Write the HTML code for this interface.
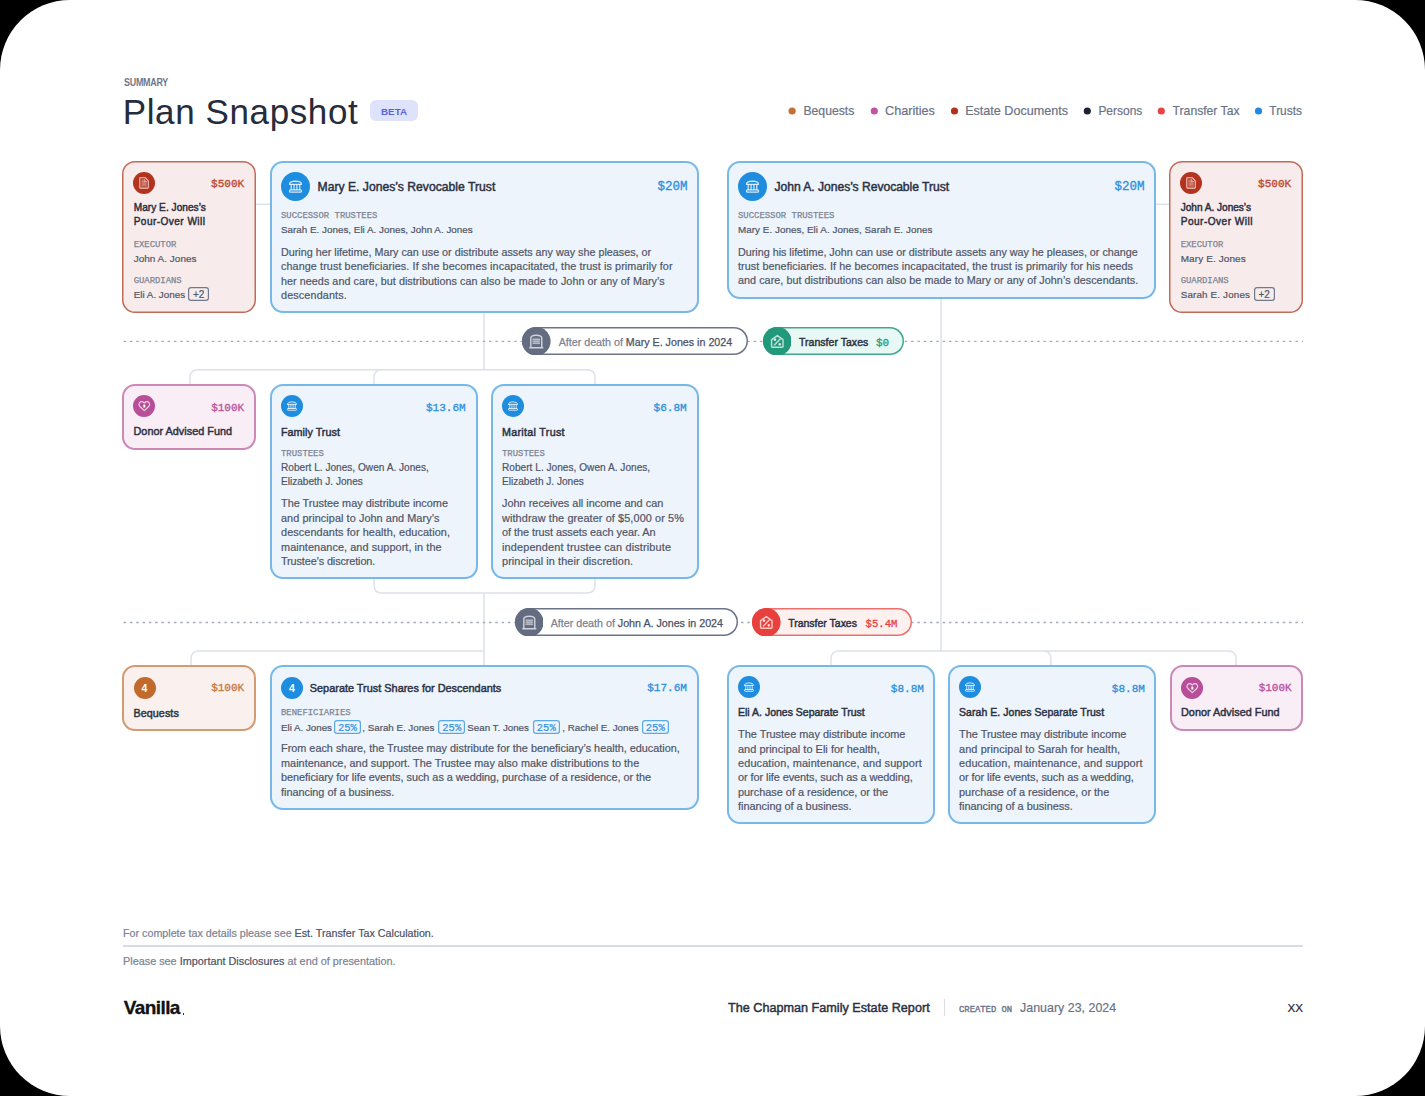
<!DOCTYPE html><html><head><meta charset="utf-8"><style>
html,body{margin:0;padding:0;background:#000;width:1425px;height:1096px;overflow:hidden}
.page{position:absolute;left:0;top:0;width:1425px;height:1096px;background:#fff;border-radius:70px;overflow:hidden}
.t{position:absolute;white-space:pre}
.b{position:absolute;box-sizing:border-box}
.i{position:absolute}
</style></head><body><div class="page">

<div class="t" style="left:123.50px;top:72.31px;font:700 10.5px/20px 'Liberation Sans', sans-serif;color:#6f778a;letter-spacing:-0.3px;-webkit-text-stroke-width:0px;transform:scaleX(0.85);transform-origin:0 0">SUMMARY</div>
<div class="t" style="left:122.80px;top:101.82px;font:400 35px/20px 'Liberation Sans', sans-serif;color:#252c3c;letter-spacing:0.6px;-webkit-text-stroke-width:0px;">Plan Snapshot</div>
<div class="b" style="left:370px;top:100px;width:48px;height:21px;background:#dfe2fb;border-radius:6px"></div>
<div class="t" style="left:394.00px;top:101.85px;font:700 9.8px/20px 'Liberation Sans', sans-serif;color:#5664df;letter-spacing:0px;-webkit-text-stroke-width:0px;transform:translateX(-50%)">BETA</div>
<svg class="i" style="left:0;top:0" width="1425" height="200"><circle cx="792.1" cy="111" r="3.6" fill="#c46f33"/><circle cx="874.3" cy="111" r="3.6" fill="#c2559f"/><circle cx="954.5" cy="111" r="3.6" fill="#b2321f"/><circle cx="1087.3" cy="111" r="3.6" fill="#1c2333"/><circle cx="1161.3" cy="111" r="3.6" fill="#e94343"/><circle cx="1258.5" cy="111" r="3.6" fill="#2089e0"/></svg>
<div class="t" style="left:803.40px;top:101.21px;font:400 12.23px/20px 'Liberation Sans', sans-serif;color:#6b7386;letter-spacing:0px;-webkit-text-stroke-width:0.2px;">Bequests</div>
<div class="t" style="left:885.00px;top:101.06px;font:400 12.67px/20px 'Liberation Sans', sans-serif;color:#6b7386;letter-spacing:0px;-webkit-text-stroke-width:0.2px;">Charities</div>
<div class="t" style="left:965.20px;top:101.09px;font:400 12.58px/20px 'Liberation Sans', sans-serif;color:#6b7386;letter-spacing:0px;-webkit-text-stroke-width:0.2px;">Estate Documents</div>
<div class="t" style="left:1098.40px;top:101.30px;font:400 11.97px/20px 'Liberation Sans', sans-serif;color:#6b7386;letter-spacing:0px;-webkit-text-stroke-width:0.2px;">Persons</div>
<div class="t" style="left:1172.60px;top:101.24px;font:400 12.16px/20px 'Liberation Sans', sans-serif;color:#6b7386;letter-spacing:0px;-webkit-text-stroke-width:0.2px;">Transfer Tax</div>
<div class="t" style="left:1269.30px;top:101.32px;font:400 11.93px/20px 'Liberation Sans', sans-serif;color:#6b7386;letter-spacing:0px;-webkit-text-stroke-width:0.2px;">Trusts</div>
<svg class="i" style="left:0;top:0" width="1425" height="1096"><g fill="none" stroke="#dde2ea" stroke-width="1.5"><path d="M256,204.3 H270"/><path d="M1155,204.3 H1170"/><path d="M484,312 V369.8"/><path d="M190,385 V377.8 Q190,369.8 198,369.8 H587 Q595,369.8 595,377.8 V385"/><path d="M374,385 V377.8 Q374,369.8 382,369.8"/><path d="M374,579 V585 Q374,593 382,593 H587 Q595,593 595,585 V579"/><path d="M484,593 V665"/><path d="M191,665 V659 Q191,651 199,651 H484"/><path d="M941,298 V651"/><path d="M831,665 V659 Q831,651 839,651 H1228 Q1236,651 1236,659 V665"/><path d="M1051,665 V659 Q1051,651 1043,651"/></g>
<line x1="123.6" y1="341.4" x2="1303" y2="341.4" stroke="#a3abbb" stroke-width="1.3" stroke-dasharray="2.5 3.8"/>
<line x1="123.6" y1="622.5" x2="1303" y2="622.5" stroke="#a3abbb" stroke-width="1.3" stroke-dasharray="2.5 3.8"/>
</svg>
<div class="b" style="left:522.4px;top:326.8px;width:225.20000000000005px;height:28.6px;background:#fff;box-shadow:inset 0 0 0 1.5px #6b7488;border-radius:14.3px"></div>
<svg class="i" style="left:522.4px;top:326.8px" width="28.6" height="28.6" viewBox="0 0 28.6 28.6"><circle cx="14.3" cy="14.3" r="14.3" fill="#636c80"/><g transform="translate(14.3,14.3) scale(1.3)" fill="none" stroke="#fff" stroke-width="1.1" stroke-linecap="round" stroke-linejoin="round"><path d="M-4.2,4.6 V-2.4 Q-4.2,-4.7 0,-4.7 Q4.2,-4.7 4.2,-2.4 V4.6 M-5,4.9 H5" stroke-opacity="0.7"/><rect x="-2.8" y="-2.3" width="5.6" height="4.5" fill="#fff" fill-opacity="0.3" stroke="none"/><path d="M-2.6,-1.5 H2.6 M-2.6,0 H2.6 M-2.6,1.5 H2.6" stroke-opacity="0.45" stroke-width="0.8"/></g></svg>
<div class="t" style="left:558.70px;top:331.74px;font:400 10.7px/20px 'Liberation Sans', sans-serif;color:#4b5264;letter-spacing:0px;-webkit-text-stroke-width:0.25px;"><span style="color:#7b8294">After death of </span>Mary E. Jones in 2024</div>
<div class="b" style="left:762.7px;top:326.8px;width:140.89999999999998px;height:28.6px;background:#e8f8f5;box-shadow:inset 0 0 0 1.5px #40a68d;border-radius:14.3px"></div>
<svg class="i" style="left:762.7px;top:326.8px" width="28.6" height="28.6" viewBox="0 0 28.6 28.6"><circle cx="14.3" cy="14.3" r="14.3" fill="#23997c"/><g transform="translate(14.3,14.3) scale(1.3)" fill="none" stroke="#fff" stroke-width="1.1" stroke-linecap="round" stroke-linejoin="round"><path d="M-4.4,-1.3 L0,-4.4 L4.4,-1.3 V4 Q4.4,4.6 3.8,4.6 H-3.8 Q-4.4,4.6 -4.4,4 Z" stroke-opacity="0.7"/><path d="M2.2,-1.8 L-2.2,2.8" stroke-opacity="0.7"/><circle cx="-1.8" cy="-1.2" r="0.5" fill="#fff" stroke-opacity="0.7"/><circle cx="1.9" cy="2.3" r="0.5" fill="#fff" stroke-opacity="0.7"/></g></svg>
<div class="t" style="left:799.00px;top:332.82px;font:400 10.49px/20px 'Liberation Sans', sans-serif;color:#2b3142;letter-spacing:0.039px;-webkit-text-stroke-width:0.45px;">Transfer Taxes</div>
<div class="t" style="left:875.90px;top:332.52px;font:400 11px/20px 'Liberation Mono', monospace;color:#2a9d80;letter-spacing:0px;-webkit-text-stroke-width:0.3px;">$0</div>
<div class="b" style="left:514.7px;top:607.9px;width:223.0px;height:28.6px;background:#fff;box-shadow:inset 0 0 0 1.5px #6b7488;border-radius:14.3px"></div>
<svg class="i" style="left:514.7px;top:607.9px" width="28.6" height="28.6" viewBox="0 0 28.6 28.6"><circle cx="14.3" cy="14.3" r="14.3" fill="#636c80"/><g transform="translate(14.3,14.3) scale(1.3)" fill="none" stroke="#fff" stroke-width="1.1" stroke-linecap="round" stroke-linejoin="round"><path d="M-4.2,4.6 V-2.4 Q-4.2,-4.7 0,-4.7 Q4.2,-4.7 4.2,-2.4 V4.6 M-5,4.9 H5" stroke-opacity="0.7"/><rect x="-2.8" y="-2.3" width="5.6" height="4.5" fill="#fff" fill-opacity="0.3" stroke="none"/><path d="M-2.6,-1.5 H2.6 M-2.6,0 H2.6 M-2.6,1.5 H2.6" stroke-opacity="0.45" stroke-width="0.8"/></g></svg>
<div class="t" style="left:550.70px;top:612.84px;font:400 10.7px/20px 'Liberation Sans', sans-serif;color:#4b5264;letter-spacing:0px;-webkit-text-stroke-width:0.25px;"><span style="color:#7b8294">After death of </span>John A. Jones in 2024</div>
<div class="b" style="left:752.1px;top:607.9px;width:159.69999999999993px;height:28.6px;background:#fdf1f0;box-shadow:inset 0 0 0 1.5px #ec706c;border-radius:14.3px"></div>
<svg class="i" style="left:752.1px;top:607.9px" width="28.6" height="28.6" viewBox="0 0 28.6 28.6"><circle cx="14.3" cy="14.3" r="14.3" fill="#e8403d"/><g transform="translate(14.3,14.3) scale(1.3)" fill="none" stroke="#fff" stroke-width="1.1" stroke-linecap="round" stroke-linejoin="round"><path d="M-4.4,-1.3 L0,-4.4 L4.4,-1.3 V4 Q4.4,4.6 3.8,4.6 H-3.8 Q-4.4,4.6 -4.4,4 Z" stroke-opacity="0.7"/><path d="M2.2,-1.8 L-2.2,2.8" stroke-opacity="0.7"/><circle cx="-1.8" cy="-1.2" r="0.5" fill="#fff" stroke-opacity="0.7"/><circle cx="1.9" cy="2.3" r="0.5" fill="#fff" stroke-opacity="0.7"/></g></svg>
<div class="t" style="left:788.20px;top:613.92px;font:400 10.49px/20px 'Liberation Sans', sans-serif;color:#2b3142;letter-spacing:0px;-webkit-text-stroke-width:0.45px;">Transfer Taxes</div>
<div class="t" style="left:865.60px;top:613.73px;font:400 10.6px/20px 'Liberation Mono', monospace;color:#e84040;letter-spacing:0px;-webkit-text-stroke-width:0.3px;">$5.4M</div>
<div class="b" style="left:122px;top:160.7px;width:133.7px;height:152px;background:#f7eceb;box-shadow:inset 0 0 0 1.5px #c26a58;border-radius:13px;"></div>
<svg class="i" style="left:133px;top:172px" width="22" height="22" viewBox="0 0 22 22"><circle cx="11.0" cy="11.0" r="11.0" fill="#b3331f"/><g transform="translate(11.0,11.0) scale(1.0)" fill="none" stroke="#fff" stroke-width="1.1" stroke-linecap="round" stroke-linejoin="round"><path d="M-3.6,-5.3 H1.2 L4.3,-2.2 V4.5 Q4.3,5.1 3.7,5.1 H-3.6 Q-4.2,5.1 -4.2,4.5 V-4.7 Q-4.2,-5.3 -3.6,-5.3 Z" stroke-opacity="0.75"/><path d="M-2.6,-3.6 H0.6 L2.7,-1.5 V3.5 H-2.6 Z" fill="#fff" fill-opacity="0.35" stroke="none"/><path d="M0.6,-3.6 V-1.5 H2.7" stroke-opacity="0.45" stroke-width="0.9"/></g></svg>
<div class="t" style="right:1180.80px;top:174.40px;font:400 11.07px/20px 'Liberation Mono', monospace;color:#bf4b35;letter-spacing:0px;-webkit-text-stroke-width:0.35px;">$500K</div>
<div class="t" style="left:133.70px;top:201.00px;font:400 10.1px/14.3px 'Liberation Sans', sans-serif;color:#2b3142;letter-spacing:0.038px;-webkit-text-stroke-width:0.45px">Mary E. Jones’s</div>
<div class="t" style="left:133.70px;top:215.30px;font:400 10.1px/14.3px 'Liberation Sans', sans-serif;color:#2b3142;letter-spacing:0.434px;-webkit-text-stroke-width:0.45px">Pour-Over Will</div>
<div class="t" style="left:133.70px;top:235.08px;font:400 8.9px/20px 'Liberation Mono', monospace;color:#7d8494;letter-spacing:0px;-webkit-text-stroke-width:0.25px;">EXECUTOR</div>
<div class="t" style="left:133.70px;top:248.90px;font:400 9.96px/20px 'Liberation Sans', sans-serif;color:#4f5566;letter-spacing:0.027px;-webkit-text-stroke-width:0.2px;">John A. Jones</div>
<div class="t" style="left:133.70px;top:271.08px;font:400 8.9px/20px 'Liberation Mono', monospace;color:#7d8494;letter-spacing:0px;-webkit-text-stroke-width:0.25px;">GUARDIANS</div>
<div class="t" style="left:133.70px;top:284.75px;font:400 9.8px/20px 'Liberation Sans', sans-serif;color:#4f5566;letter-spacing:0.018px;-webkit-text-stroke-width:0.2px;">Eli A. Jones</div>
<div class="b" style="left:188.1px;top:287.3px;width:21px;height:14px;box-shadow:inset 0 0 0 1.2px #707a8c;border-radius:3px"></div>
<div class="t" style="left:198.60px;top:285.09px;font:400 10px/20px 'Liberation Sans', sans-serif;color:#4f5566;letter-spacing:0px;-webkit-text-stroke-width:0.2px;transform:translateX(-50%)">+2</div>
<div class="b" style="left:1169px;top:160.7px;width:133.7px;height:152px;background:#f7eceb;box-shadow:inset 0 0 0 1.5px #c26a58;border-radius:13px;"></div>
<svg class="i" style="left:1180px;top:172px" width="22" height="22" viewBox="0 0 22 22"><circle cx="11.0" cy="11.0" r="11.0" fill="#b3331f"/><g transform="translate(11.0,11.0) scale(1.0)" fill="none" stroke="#fff" stroke-width="1.1" stroke-linecap="round" stroke-linejoin="round"><path d="M-3.6,-5.3 H1.2 L4.3,-2.2 V4.5 Q4.3,5.1 3.7,5.1 H-3.6 Q-4.2,5.1 -4.2,4.5 V-4.7 Q-4.2,-5.3 -3.6,-5.3 Z" stroke-opacity="0.75"/><path d="M-2.6,-3.6 H0.6 L2.7,-1.5 V3.5 H-2.6 Z" fill="#fff" fill-opacity="0.35" stroke="none"/><path d="M0.6,-3.6 V-1.5 H2.7" stroke-opacity="0.45" stroke-width="0.9"/></g></svg>
<div class="t" style="right:133.80px;top:174.40px;font:400 11.07px/20px 'Liberation Mono', monospace;color:#bf4b35;letter-spacing:0px;-webkit-text-stroke-width:0.35px;">$500K</div>
<div class="t" style="left:1180.70px;top:201.00px;font:400 10.1px/14.3px 'Liberation Sans', sans-serif;color:#2b3142;letter-spacing:-0.019px;-webkit-text-stroke-width:0.45px">John A. Jones’s</div>
<div class="t" style="left:1180.70px;top:215.30px;font:400 10.1px/14.3px 'Liberation Sans', sans-serif;color:#2b3142;letter-spacing:0.473px;-webkit-text-stroke-width:0.45px">Pour-Over Will</div>
<div class="t" style="left:1180.70px;top:235.08px;font:400 8.9px/20px 'Liberation Mono', monospace;color:#7d8494;letter-spacing:0px;-webkit-text-stroke-width:0.25px;">EXECUTOR</div>
<div class="t" style="left:1180.70px;top:248.90px;font:400 9.96px/20px 'Liberation Sans', sans-serif;color:#4f5566;letter-spacing:0.12px;-webkit-text-stroke-width:0.2px;">Mary E. Jones</div>
<div class="t" style="left:1180.70px;top:271.08px;font:400 8.9px/20px 'Liberation Mono', monospace;color:#7d8494;letter-spacing:0px;-webkit-text-stroke-width:0.25px;">GUARDIANS</div>
<div class="t" style="left:1180.70px;top:284.75px;font:400 9.8px/20px 'Liberation Sans', sans-serif;color:#4f5566;letter-spacing:0.176px;-webkit-text-stroke-width:0.2px;">Sarah E. Jones</div>
<div class="b" style="left:1253.7px;top:287.3px;width:21px;height:14px;box-shadow:inset 0 0 0 1.2px #707a8c;border-radius:3px"></div>
<div class="t" style="left:1264.20px;top:285.09px;font:400 10px/20px 'Liberation Sans', sans-serif;color:#4f5566;letter-spacing:0px;-webkit-text-stroke-width:0.2px;transform:translateX(-50%)">+2</div>
<div class="b" style="left:269.6px;top:160.7px;width:429.7px;height:152.2px;background:#edf4fc;box-shadow:inset 0 0 0 2px #76b9e9;border-radius:13px;"></div>
<svg class="i" style="left:281px;top:172px" width="29" height="29" viewBox="0 0 29 29"><circle cx="14.5" cy="14.5" r="14.5" fill="#1f8ddf"/><g transform="translate(14.5,14.5) scale(1.3181818181818181)" fill="none" stroke="#fff" stroke-width="1.1" stroke-linecap="round" stroke-linejoin="round"><g transform="scale(0.9)"><path d="M-5,-2.2 Q-5,-4.4 0,-4.6 Q5,-4.4 5,-2.2 L5,-1.8 L-5,-1.8 Z" stroke-opacity="0.8"/><path d="M-3.6,-1.6 V2.6 M-1.2,-1.6 V2.6 M1.2,-1.6 V2.6 M3.6,-1.6 V2.6" stroke-opacity="0.75"/><rect x="-5" y="2.8" width="10" height="1.9" rx="0.8" stroke-opacity="0.8"/></g></g></svg>
<div class="t" style="left:317.50px;top:177.34px;font:400 12.15px/20px 'Liberation Sans', sans-serif;color:#2b3142;letter-spacing:0.018px;-webkit-text-stroke-width:0.45px;">Mary E. Jones’s Revocable Trust</div>
<div class="t" style="right:737.60px;top:177.42px;font:400 12.5px/20px 'Liberation Mono', monospace;color:#2b8fdf;letter-spacing:0px;-webkit-text-stroke-width:0.3px;">$20M</div>
<div class="t" style="left:281.00px;top:206.07px;font:400 8.93px/20px 'Liberation Mono', monospace;color:#7d8494;letter-spacing:0px;-webkit-text-stroke-width:0.25px;">SUCCESSOR TRUSTEES</div>
<div class="t" style="left:281.00px;top:220.24px;font:400 9.83px/20px 'Liberation Sans', sans-serif;color:#4f5566;letter-spacing:0.011px;-webkit-text-stroke-width:0.2px;">Sarah E. Jones, Eli A. Jones, John A. Jones</div>
<div class="t" style="left:281.00px;top:244.97px;font:400 10.77px/14.3px 'Liberation Sans', sans-serif;color:#4f5566;letter-spacing:0.005px;-webkit-text-stroke-width:0.2px">During her lifetime, Mary can use or distribute assets any way she pleases, or</div>
<div class="t" style="left:281.00px;top:259.27px;font:400 10.77px/14.3px 'Liberation Sans', sans-serif;color:#4f5566;letter-spacing:0.103px;-webkit-text-stroke-width:0.2px">change trust beneficiaries. If she becomes incapacitated, the trust is primarily for</div>
<div class="t" style="left:281.00px;top:273.57px;font:400 10.77px/14.3px 'Liberation Sans', sans-serif;color:#4f5566;letter-spacing:0.049px;-webkit-text-stroke-width:0.2px">her needs and care, but distributions can also be made to John or any of Mary’s</div>
<div class="t" style="left:281.00px;top:287.87px;font:400 10.77px/14.3px 'Liberation Sans', sans-serif;color:#4f5566;letter-spacing:0.157px;-webkit-text-stroke-width:0.2px">descendants.</div>
<div class="b" style="left:726.6px;top:160.7px;width:429.7px;height:138.3px;background:#edf4fc;box-shadow:inset 0 0 0 2px #76b9e9;border-radius:13px;"></div>
<svg class="i" style="left:738px;top:172px" width="29" height="29" viewBox="0 0 29 29"><circle cx="14.5" cy="14.5" r="14.5" fill="#1f8ddf"/><g transform="translate(14.5,14.5) scale(1.3181818181818181)" fill="none" stroke="#fff" stroke-width="1.1" stroke-linecap="round" stroke-linejoin="round"><g transform="scale(0.9)"><path d="M-5,-2.2 Q-5,-4.4 0,-4.6 Q5,-4.4 5,-2.2 L5,-1.8 L-5,-1.8 Z" stroke-opacity="0.8"/><path d="M-3.6,-1.6 V2.6 M-1.2,-1.6 V2.6 M1.2,-1.6 V2.6 M3.6,-1.6 V2.6" stroke-opacity="0.75"/><rect x="-5" y="2.8" width="10" height="1.9" rx="0.8" stroke-opacity="0.8"/></g></g></svg>
<div class="t" style="left:774.50px;top:177.34px;font:400 12.15px/20px 'Liberation Sans', sans-serif;color:#2b3142;letter-spacing:-0.045px;-webkit-text-stroke-width:0.45px;">John A. Jones’s Revocable Trust</div>
<div class="t" style="right:280.60px;top:177.42px;font:400 12.5px/20px 'Liberation Mono', monospace;color:#2b8fdf;letter-spacing:0px;-webkit-text-stroke-width:0.3px;">$20M</div>
<div class="t" style="left:738.00px;top:206.07px;font:400 8.93px/20px 'Liberation Mono', monospace;color:#7d8494;letter-spacing:0px;-webkit-text-stroke-width:0.25px;">SUCCESSOR TRUSTEES</div>
<div class="t" style="left:738.00px;top:220.24px;font:400 9.83px/20px 'Liberation Sans', sans-serif;color:#4f5566;letter-spacing:0.049px;-webkit-text-stroke-width:0.2px;">Mary E. Jones, Eli A. Jones, Sarah E. Jones</div>
<div class="t" style="left:738.00px;top:244.67px;font:400 10.77px/14.3px 'Liberation Sans', sans-serif;color:#4f5566;letter-spacing:-0.008px;-webkit-text-stroke-width:0.2px">During his lifetime, John can use or distribute assets any way he pleases, or change</div>
<div class="t" style="left:738.00px;top:258.97px;font:400 10.77px/14.3px 'Liberation Sans', sans-serif;color:#4f5566;letter-spacing:0.078px;-webkit-text-stroke-width:0.2px">trust beneficiaries. If he becomes incapacitated, the trust is primarily for his needs</div>
<div class="t" style="left:738.00px;top:273.27px;font:400 10.77px/14.3px 'Liberation Sans', sans-serif;color:#4f5566;letter-spacing:0.053px;-webkit-text-stroke-width:0.2px">and care, but distributions can also be made to Mary or any of John’s descendants.</div>
<div class="b" style="left:122.3px;top:384.2px;width:133.7px;height:65.6px;background:#f9eef6;box-shadow:inset 0 0 0 2px #cc88b6;border-radius:13px;"></div>
<svg class="i" style="left:133px;top:395.3px" width="22" height="22" viewBox="0 0 22 22"><circle cx="11.0" cy="11.0" r="11.0" fill="#b84e98"/><g transform="translate(11.0,11.0) scale(1.0)" fill="none" stroke="#fff" stroke-width="1.1" stroke-linecap="round" stroke-linejoin="round"><path d="M0.3,4.6 L-4.1,0.5 Q-5.7,-1.3 -4.5,-3.4 Q-2.4,-5.4 0.3,-3 Q3,-5.4 5.1,-3.4 Q6.3,-1.3 4.7,0.5 Z" stroke-opacity="0.75"/><rect x="-0.7" y="-1.6" width="2" height="3.2" rx="0.6" fill="#fff" stroke="none"/></g></svg>
<div class="t" style="right:1180.80px;top:397.51px;font:400 11.03px/20px 'Liberation Mono', monospace;color:#b9519b;letter-spacing:0px;-webkit-text-stroke-width:0.3px;">$100K</div>
<div class="t" style="left:133.50px;top:421.29px;font:400 10.84px/20px 'Liberation Sans', sans-serif;color:#2b3142;letter-spacing:0.028px;-webkit-text-stroke-width:0.45px;">Donor Advised Fund</div>
<div class="b" style="left:122.3px;top:665px;width:133.7px;height:65.5px;background:#faf1ee;box-shadow:inset 0 0 0 2px #d49a72;border-radius:13px;"></div>
<div class="i" style="left:133.5px;top:676.5px;width:22px;height:22px;border-radius:50%;background:#c26a2c;color:#fff;font:700 10.5px/22px 'Liberation Sans', sans-serif;text-align:center">4</div>
<div class="t" style="right:1180.80px;top:678.21px;font:400 11.03px/20px 'Liberation Mono', monospace;color:#c5773d;letter-spacing:0px;-webkit-text-stroke-width:0.3px;">$100K</div>
<div class="t" style="left:133.50px;top:702.53px;font:400 10.74px/20px 'Liberation Sans', sans-serif;color:#2b3142;letter-spacing:0.074px;-webkit-text-stroke-width:0.45px;">Bequests</div>
<div class="b" style="left:1169.8px;top:665px;width:133.7px;height:65.5px;background:#f9eef6;box-shadow:inset 0 0 0 2px #cc88b6;border-radius:13px;"></div>
<svg class="i" style="left:1180.5px;top:676.5px" width="22" height="22" viewBox="0 0 22 22"><circle cx="11.0" cy="11.0" r="11.0" fill="#b84e98"/><g transform="translate(11.0,11.0) scale(1.0)" fill="none" stroke="#fff" stroke-width="1.1" stroke-linecap="round" stroke-linejoin="round"><path d="M0.3,4.6 L-4.1,0.5 Q-5.7,-1.3 -4.5,-3.4 Q-2.4,-5.4 0.3,-3 Q3,-5.4 5.1,-3.4 Q6.3,-1.3 4.7,0.5 Z" stroke-opacity="0.75"/><rect x="-0.7" y="-1.6" width="2" height="3.2" rx="0.6" fill="#fff" stroke="none"/></g></svg>
<div class="t" style="right:133.30px;top:678.21px;font:400 11.03px/20px 'Liberation Mono', monospace;color:#b9519b;letter-spacing:0px;-webkit-text-stroke-width:0.3px;">$100K</div>
<div class="t" style="left:1181.00px;top:702.49px;font:400 10.84px/20px 'Liberation Sans', sans-serif;color:#2b3142;letter-spacing:0.028px;-webkit-text-stroke-width:0.45px;">Donor Advised Fund</div>
<div class="b" style="left:269.6px;top:384.2px;width:208.3px;height:195.3px;background:#edf4fc;box-shadow:inset 0 0 0 2px #76b9e9;border-radius:13px;"></div>
<svg class="i" style="left:281px;top:395px" width="22" height="22" viewBox="0 0 22 22"><circle cx="11.0" cy="11.0" r="11.0" fill="#1f8ddf"/><g transform="translate(11.0,11.0) scale(1.0)" fill="none" stroke="#fff" stroke-width="1.1" stroke-linecap="round" stroke-linejoin="round"><g transform="scale(0.9)"><path d="M-5,-2.2 Q-5,-4.4 0,-4.6 Q5,-4.4 5,-2.2 L5,-1.8 L-5,-1.8 Z" stroke-opacity="0.8"/><path d="M-3.6,-1.6 V2.6 M-1.2,-1.6 V2.6 M1.2,-1.6 V2.6 M3.6,-1.6 V2.6" stroke-opacity="0.75"/><rect x="-5" y="2.8" width="10" height="1.9" rx="0.8" stroke-opacity="0.8"/></g></g></svg>
<div class="t" style="right:959.30px;top:397.61px;font:400 11.05px/20px 'Liberation Mono', monospace;color:#2b8fdf;letter-spacing:0px;-webkit-text-stroke-width:0.3px;">$13.6M</div>
<div class="t" style="left:281.00px;top:421.83px;font:400 10.74px/20px 'Liberation Sans', sans-serif;color:#2b3142;letter-spacing:0.038px;-webkit-text-stroke-width:0.45px;">Family Trust</div>
<div class="t" style="left:281.00px;top:443.57px;font:400 8.93px/20px 'Liberation Mono', monospace;color:#7d8494;letter-spacing:0px;-webkit-text-stroke-width:0.25px;">TRUSTEES</div>
<div class="t" style="left:281.00px;top:460.76px;font:400 10.08px/14.4px 'Liberation Sans', sans-serif;color:#4f5566;letter-spacing:0.015px;-webkit-text-stroke-width:0.2px">Robert L. Jones, Owen A. Jones,</div>
<div class="t" style="left:281.00px;top:475.16px;font:400 10.08px/14.4px 'Liberation Sans', sans-serif;color:#4f5566;letter-spacing:-0.000px;-webkit-text-stroke-width:0.2px">Elizabeth J. Jones</div>
<div class="t" style="left:281.00px;top:496.48px;font:400 10.89px/14.4px 'Liberation Sans', sans-serif;color:#4f5566;letter-spacing:0.005px;-webkit-text-stroke-width:0.2px">The Trustee may distribute income</div>
<div class="t" style="left:281.00px;top:510.88px;font:400 10.89px/14.4px 'Liberation Sans', sans-serif;color:#4f5566;letter-spacing:0.065px;-webkit-text-stroke-width:0.2px">and principal to John and Mary’s</div>
<div class="t" style="left:281.00px;top:525.28px;font:400 10.89px/14.4px 'Liberation Sans', sans-serif;color:#4f5566;letter-spacing:0.082px;-webkit-text-stroke-width:0.2px">descendants for health, education,</div>
<div class="t" style="left:281.00px;top:539.68px;font:400 10.89px/14.4px 'Liberation Sans', sans-serif;color:#4f5566;letter-spacing:0.070px;-webkit-text-stroke-width:0.2px">maintenance, and support, in the</div>
<div class="t" style="left:281.00px;top:554.08px;font:400 10.89px/14.4px 'Liberation Sans', sans-serif;color:#4f5566;letter-spacing:-0.122px;-webkit-text-stroke-width:0.2px">Trustee’s discretion.</div>
<div class="b" style="left:490.6px;top:384.2px;width:208.3px;height:195.3px;background:#edf4fc;box-shadow:inset 0 0 0 2px #76b9e9;border-radius:13px;"></div>
<svg class="i" style="left:502px;top:395px" width="22" height="22" viewBox="0 0 22 22"><circle cx="11.0" cy="11.0" r="11.0" fill="#1f8ddf"/><g transform="translate(11.0,11.0) scale(1.0)" fill="none" stroke="#fff" stroke-width="1.1" stroke-linecap="round" stroke-linejoin="round"><g transform="scale(0.9)"><path d="M-5,-2.2 Q-5,-4.4 0,-4.6 Q5,-4.4 5,-2.2 L5,-1.8 L-5,-1.8 Z" stroke-opacity="0.8"/><path d="M-3.6,-1.6 V2.6 M-1.2,-1.6 V2.6 M1.2,-1.6 V2.6 M3.6,-1.6 V2.6" stroke-opacity="0.75"/><rect x="-5" y="2.8" width="10" height="1.9" rx="0.8" stroke-opacity="0.8"/></g></g></svg>
<div class="t" style="right:738.30px;top:397.61px;font:400 11.05px/20px 'Liberation Mono', monospace;color:#2b8fdf;letter-spacing:0px;-webkit-text-stroke-width:0.3px;">$6.8M</div>
<div class="t" style="left:502.00px;top:421.83px;font:400 10.74px/20px 'Liberation Sans', sans-serif;color:#2b3142;letter-spacing:0.293px;-webkit-text-stroke-width:0.45px;">Marital Trust</div>
<div class="t" style="left:502.00px;top:443.57px;font:400 8.93px/20px 'Liberation Mono', monospace;color:#7d8494;letter-spacing:0px;-webkit-text-stroke-width:0.25px;">TRUSTEES</div>
<div class="t" style="left:502.00px;top:460.76px;font:400 10.08px/14.4px 'Liberation Sans', sans-serif;color:#4f5566;letter-spacing:0.028px;-webkit-text-stroke-width:0.2px">Robert L. Jones, Owen A. Jones,</div>
<div class="t" style="left:502.00px;top:475.16px;font:400 10.08px/14.4px 'Liberation Sans', sans-serif;color:#4f5566;letter-spacing:0.005px;-webkit-text-stroke-width:0.2px">Elizabeth J. Jones</div>
<div class="t" style="left:502.00px;top:496.48px;font:400 10.89px/14.4px 'Liberation Sans', sans-serif;color:#4f5566;letter-spacing:0.015px;-webkit-text-stroke-width:0.2px">John receives all income and can</div>
<div class="t" style="left:502.00px;top:510.88px;font:400 10.89px/14.4px 'Liberation Sans', sans-serif;color:#4f5566;letter-spacing:0.101px;-webkit-text-stroke-width:0.2px">withdraw the greater of $5,000 or 5%</div>
<div class="t" style="left:502.00px;top:525.28px;font:400 10.89px/14.4px 'Liberation Sans', sans-serif;color:#4f5566;letter-spacing:-0.037px;-webkit-text-stroke-width:0.2px">of the trust assets each year. An</div>
<div class="t" style="left:502.00px;top:539.68px;font:400 10.89px/14.4px 'Liberation Sans', sans-serif;color:#4f5566;letter-spacing:0.156px;-webkit-text-stroke-width:0.2px">independent trustee can distribute</div>
<div class="t" style="left:502.00px;top:554.08px;font:400 10.89px/14.4px 'Liberation Sans', sans-serif;color:#4f5566;letter-spacing:0.082px;-webkit-text-stroke-width:0.2px">principal in their discretion.</div>
<div class="b" style="left:269.6px;top:665px;width:429.7px;height:145px;background:#edf4fc;box-shadow:inset 0 0 0 2px #76b9e9;border-radius:13px;"></div>
<div class="i" style="left:281px;top:676.6px;width:22px;height:22px;border-radius:50%;background:#1f8ddf;color:#fff;font:700 10.5px/22px 'Liberation Sans', sans-serif;text-align:center">4</div>
<div class="t" style="left:309.80px;top:677.88px;font:400 10.89px/20px 'Liberation Sans', sans-serif;color:#2b3142;letter-spacing:0.012px;-webkit-text-stroke-width:0.45px;">Separate Trust Shares for Descendants</div>
<div class="t" style="right:738.10px;top:678.21px;font:400 11.05px/20px 'Liberation Mono', monospace;color:#2b8fdf;letter-spacing:0px;-webkit-text-stroke-width:0.3px;">$17.6M</div>
<div class="t" style="left:281.00px;top:703.17px;font:400 8.93px/20px 'Liberation Mono', monospace;color:#7d8494;letter-spacing:0px;-webkit-text-stroke-width:0.25px;">BENEFICIARIES</div>
<div class="t" style="left:281.00px;top:717.57px;font:400 9.76px/20px 'Liberation Sans', sans-serif;color:#4f5566;letter-spacing:0px;-webkit-text-stroke-width:0.2px;">Eli A. Jones</div>
<div class="t" style="left:362.30px;top:717.57px;font:400 9.76px/20px 'Liberation Sans', sans-serif;color:#4f5566;letter-spacing:0px;-webkit-text-stroke-width:0.2px;">, Sarah E. Jones</div>
<div class="t" style="left:467.30px;top:717.57px;font:400 9.76px/20px 'Liberation Sans', sans-serif;color:#4f5566;letter-spacing:0px;-webkit-text-stroke-width:0.2px;">Sean T. Jones</div>
<div class="t" style="left:562.30px;top:717.57px;font:400 9.76px/20px 'Liberation Sans', sans-serif;color:#4f5566;letter-spacing:0px;-webkit-text-stroke-width:0.2px;">, Rachel E. Jones</div>
<div class="b" style="left:334px;top:719.8px;width:26.7px;height:14.2px;box-shadow:inset 0 0 0 1.2px #5aa9e6;border-radius:3px"></div>
<div class="t" style="left:347.35px;top:718.45px;font:400 10.5px/20px 'Liberation Mono', monospace;color:#2b8fdf;letter-spacing:0px;-webkit-text-stroke-width:0.2px;transform:translateX(-50%)">25%</div>
<div class="b" style="left:438.4px;top:719.8px;width:26.7px;height:14.2px;box-shadow:inset 0 0 0 1.2px #5aa9e6;border-radius:3px"></div>
<div class="t" style="left:451.75px;top:718.45px;font:400 10.5px/20px 'Liberation Mono', monospace;color:#2b8fdf;letter-spacing:0px;-webkit-text-stroke-width:0.2px;transform:translateX(-50%)">25%</div>
<div class="b" style="left:532.9px;top:719.8px;width:26.7px;height:14.2px;box-shadow:inset 0 0 0 1.2px #5aa9e6;border-radius:3px"></div>
<div class="t" style="left:546.25px;top:718.45px;font:400 10.5px/20px 'Liberation Mono', monospace;color:#2b8fdf;letter-spacing:0px;-webkit-text-stroke-width:0.2px;transform:translateX(-50%)">25%</div>
<div class="b" style="left:641.9px;top:719.8px;width:26.7px;height:14.2px;box-shadow:inset 0 0 0 1.2px #5aa9e6;border-radius:3px"></div>
<div class="t" style="left:655.25px;top:718.45px;font:400 10.5px/20px 'Liberation Mono', monospace;color:#2b8fdf;letter-spacing:0px;-webkit-text-stroke-width:0.2px;transform:translateX(-50%)">25%</div>
<div class="t" style="left:281.00px;top:741.38px;font:400 10.87px/14.4px 'Liberation Sans', sans-serif;color:#4f5566;letter-spacing:0.001px;-webkit-text-stroke-width:0.2px">From each share, the Trustee may distribute for the beneficiary’s health, education,</div>
<div class="t" style="left:281.00px;top:755.78px;font:400 10.87px/14.4px 'Liberation Sans', sans-serif;color:#4f5566;letter-spacing:0.023px;-webkit-text-stroke-width:0.2px">maintenance, and support. The Trustee may also make distributions to the</div>
<div class="t" style="left:281.00px;top:770.18px;font:400 10.87px/14.4px 'Liberation Sans', sans-serif;color:#4f5566;letter-spacing:-0.022px;-webkit-text-stroke-width:0.2px">beneficiary for life events, such as a wedding, purchase of a residence, or the</div>
<div class="t" style="left:281.00px;top:784.58px;font:400 10.87px/14.4px 'Liberation Sans', sans-serif;color:#4f5566;letter-spacing:-0.009px;-webkit-text-stroke-width:0.2px">financing of a business.</div>
<div class="b" style="left:727px;top:665px;width:208px;height:159px;background:#edf4fc;box-shadow:inset 0 0 0 2px #76b9e9;border-radius:13px;"></div>
<svg class="i" style="left:738px;top:676.4px" width="22" height="22" viewBox="0 0 22 22"><circle cx="11.0" cy="11.0" r="11.0" fill="#1f8ddf"/><g transform="translate(11.0,11.0) scale(1.0)" fill="none" stroke="#fff" stroke-width="1.1" stroke-linecap="round" stroke-linejoin="round"><g transform="scale(0.9)"><path d="M-5,-2.2 Q-5,-4.4 0,-4.6 Q5,-4.4 5,-2.2 L5,-1.8 L-5,-1.8 Z" stroke-opacity="0.8"/><path d="M-3.6,-1.6 V2.6 M-1.2,-1.6 V2.6 M1.2,-1.6 V2.6 M3.6,-1.6 V2.6" stroke-opacity="0.75"/><rect x="-5" y="2.8" width="10" height="1.9" rx="0.8" stroke-opacity="0.8"/></g></g></svg>
<div class="t" style="right:501.00px;top:678.51px;font:400 11.05px/20px 'Liberation Mono', monospace;color:#2b8fdf;letter-spacing:0px;-webkit-text-stroke-width:0.3px;">$8.8M</div>
<div class="t" style="left:738.00px;top:703.02px;font:400 10.47px/20px 'Liberation Sans', sans-serif;color:#2b3142;letter-spacing:0.016px;-webkit-text-stroke-width:0.45px;">Eli A. Jones Separate Trust</div>
<div class="t" style="left:738.00px;top:727.31px;font:400 10.95px/14.3px 'Liberation Sans', sans-serif;color:#4f5566;letter-spacing:-0.012px;-webkit-text-stroke-width:0.2px">The Trustee may distribute income</div>
<div class="t" style="left:738.00px;top:741.61px;font:400 10.95px/14.3px 'Liberation Sans', sans-serif;color:#4f5566;letter-spacing:0.022px;-webkit-text-stroke-width:0.2px">and principal to Eli for health,</div>
<div class="t" style="left:738.00px;top:755.91px;font:400 10.95px/14.3px 'Liberation Sans', sans-serif;color:#4f5566;letter-spacing:0.109px;-webkit-text-stroke-width:0.2px">education, maintenance, and support</div>
<div class="t" style="left:738.00px;top:770.21px;font:400 10.95px/14.3px 'Liberation Sans', sans-serif;color:#4f5566;letter-spacing:-0.076px;-webkit-text-stroke-width:0.2px">or for life events, such as a wedding,</div>
<div class="t" style="left:738.00px;top:784.51px;font:400 10.95px/14.3px 'Liberation Sans', sans-serif;color:#4f5566;letter-spacing:-0.022px;-webkit-text-stroke-width:0.2px">purchase of a residence, or the</div>
<div class="t" style="left:738.00px;top:798.81px;font:400 10.95px/14.3px 'Liberation Sans', sans-serif;color:#4f5566;letter-spacing:-0.032px;-webkit-text-stroke-width:0.2px">financing of a business.</div>
<div class="b" style="left:948px;top:665px;width:208px;height:159px;background:#edf4fc;box-shadow:inset 0 0 0 2px #76b9e9;border-radius:13px;"></div>
<svg class="i" style="left:959px;top:676.4px" width="22" height="22" viewBox="0 0 22 22"><circle cx="11.0" cy="11.0" r="11.0" fill="#1f8ddf"/><g transform="translate(11.0,11.0) scale(1.0)" fill="none" stroke="#fff" stroke-width="1.1" stroke-linecap="round" stroke-linejoin="round"><g transform="scale(0.9)"><path d="M-5,-2.2 Q-5,-4.4 0,-4.6 Q5,-4.4 5,-2.2 L5,-1.8 L-5,-1.8 Z" stroke-opacity="0.8"/><path d="M-3.6,-1.6 V2.6 M-1.2,-1.6 V2.6 M1.2,-1.6 V2.6 M3.6,-1.6 V2.6" stroke-opacity="0.75"/><rect x="-5" y="2.8" width="10" height="1.9" rx="0.8" stroke-opacity="0.8"/></g></g></svg>
<div class="t" style="right:280.00px;top:678.51px;font:400 11.05px/20px 'Liberation Mono', monospace;color:#2b8fdf;letter-spacing:0px;-webkit-text-stroke-width:0.3px;">$8.8M</div>
<div class="t" style="left:959.00px;top:703.02px;font:400 10.47px/20px 'Liberation Sans', sans-serif;color:#2b3142;letter-spacing:0.069px;-webkit-text-stroke-width:0.45px;">Sarah E. Jones Separate Trust</div>
<div class="t" style="left:959.00px;top:727.31px;font:400 10.95px/14.3px 'Liberation Sans', sans-serif;color:#4f5566;letter-spacing:-0.012px;-webkit-text-stroke-width:0.2px">The Trustee may distribute income</div>
<div class="t" style="left:959.00px;top:741.61px;font:400 10.95px/14.3px 'Liberation Sans', sans-serif;color:#4f5566;letter-spacing:0.092px;-webkit-text-stroke-width:0.2px">and principal to Sarah for health,</div>
<div class="t" style="left:959.00px;top:755.91px;font:400 10.95px/14.3px 'Liberation Sans', sans-serif;color:#4f5566;letter-spacing:0.106px;-webkit-text-stroke-width:0.2px">education, maintenance, and support</div>
<div class="t" style="left:959.00px;top:770.21px;font:400 10.95px/14.3px 'Liberation Sans', sans-serif;color:#4f5566;letter-spacing:-0.074px;-webkit-text-stroke-width:0.2px">or for life events, such as a wedding,</div>
<div class="t" style="left:959.00px;top:784.51px;font:400 10.95px/14.3px 'Liberation Sans', sans-serif;color:#4f5566;letter-spacing:-0.019px;-webkit-text-stroke-width:0.2px">purchase of a residence, or the</div>
<div class="t" style="left:959.00px;top:798.81px;font:400 10.95px/14.3px 'Liberation Sans', sans-serif;color:#4f5566;letter-spacing:-0.028px;-webkit-text-stroke-width:0.2px">financing of a business.</div>
<div class="t" style="left:123.00px;top:922.93px;font:400 10.73px/20px 'Liberation Sans', sans-serif;color:#4b5264;letter-spacing:0px;-webkit-text-stroke-width:0.2px;"><span style="color:#7b8294">For complete tax details please see </span>Est. Transfer Tax Calculation.</div>
<div class="b" style="left:123px;top:945px;width:1180px;height:1.5px;background:#d8dce6"></div>
<div class="t" style="left:123.00px;top:951.39px;font:400 10.85px/20px 'Liberation Sans', sans-serif;color:#4b5264;letter-spacing:0px;-webkit-text-stroke-width:0.2px;"><span style="color:#7b8294">Please see </span>Important Disclosures<span style="color:#7b8294"> at end of presentation.</span></div>
<div class="t" style="left:123.80px;top:998.37px;font:700 19px/20px 'Liberation Sans', sans-serif;color:#111111;letter-spacing:-0.6px;-webkit-text-stroke-width:0.3px;">Vanilla</div>
<div class="i" style="left:182.5px;top:1013px;width:1.5px;height:1.5px;background:#333"></div>
<div class="t" style="left:728.00px;top:998.28px;font:400 12.62px/20px 'Liberation Sans', sans-serif;color:#2b3142;letter-spacing:0.016px;-webkit-text-stroke-width:0.45px;">The Chapman Family Estate Report</div>
<div class="b" style="left:944px;top:999px;width:1.2px;height:17px;background:#d8dce6"></div>
<div class="t" style="left:959.00px;top:1000.29px;font:400 8.87px/20px 'Liberation Mono', monospace;color:#6b7386;letter-spacing:0px;-webkit-text-stroke-width:0.35px;">CREATED ON</div>
<div class="t" style="left:1020.00px;top:998.36px;font:400 12.38px/20px 'Liberation Sans', sans-serif;color:#6b7386;letter-spacing:0.035px;-webkit-text-stroke-width:0.2px;">January 23, 2024</div>
<div class="t" style="right:122.00px;top:997.53px;font:400 11.6px/20px 'Liberation Sans', sans-serif;color:#1c2333;letter-spacing:0px;-webkit-text-stroke-width:0.2px;">XX</div>
</div></body></html>
